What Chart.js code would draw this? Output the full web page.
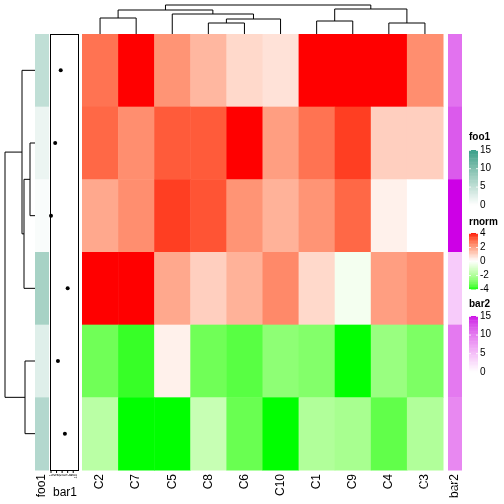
<!DOCTYPE html>
<html>
<head>
<meta charset="utf-8">
<script src="https://cdn.jsdelivr.net/npm/chart.js@4"></script>
<style>
  html, body { margin: 0; padding: 0; background: #fff; }
  #wrap { width: 504px; height: 504px; }
</style>
</head>
<body>
<div id="wrap"><canvas id="c"></canvas></div>
<script>
const columns = ['C2', 'C7', 'C5', 'C8', 'C6', 'C10', 'C1', 'C9', 'C4', 'C3'];
const rnorm = [
  [2.8, 4.0, 2.2, 1.5, 0.8, 0.6, 4.0, 4.0, 4.0, 2.3],
  [3.0, 2.3, 3.2, 3.2, 4.0, 2.0, 2.8, 3.6, 1.0, 1.0],
  [1.8, 2.3, 3.6, 3.3, 2.2, 1.6, 2.2, 3.0, 0.3, 0.0],
  [4.0, 4.0, 1.8, 1.0, 1.6, 2.4, 0.8, -0.3, 2.0, 2.3],
  [-3.2, -3.8, 0.3, -3.2, -3.5, -2.7, -2.9, -4.0, -2.5, -3.0],
  [-1.8, -4.0, -4.0, -1.5, -3.3, -4.0, -2.0, -2.2, -3.4, -2.0]
];
const foo1 = [5, 1.5, 0.5, 7, 2.5, 6];
const bar1 = [4.5, 2.5, 1, 7, 3.5, 6];
const bar2 = [10.5, 12, 15, 4, 10, 9];
const bar1Ticks = [1, 2, 3, 4, 5, 6, 7, 8, 9, 10];
// merges: [left, right, height]; negative = leaf index, positive = earlier merge number (1-based)
const colMerges = [[-1, -2, 16], [-4, -5, 11], [2, -6, 15], [-3, 3, 20], [1, 4, 24],
                   [-7, -8, 13], [-9, -10, 11], [6, 7, 25], [5, 8, 29]];
const rowMerges = [[-2, -3, 5], [1, -4, 11], [-1, 2, 13], [-5, -6, 10], [3, 4, 30]];

// LAB interpolation like ComplexHeatmap's colorRamp2
function toLin(c) { c /= 255; return c <= 0.04045 ? c / 12.92 : Math.pow((c + 0.055) / 1.055, 2.4); }
function fromLin(c) { c = c <= 0.0031308 ? c * 12.92 : 1.055 * Math.pow(c, 1 / 2.4) - 0.055; return Math.max(0, Math.min(255, Math.round(c * 255))); }
function rgb2lab(rgb) {
  const [r, g, b] = rgb.map(toLin);
  const X = (0.4124 * r + 0.3576 * g + 0.1805 * b) / 0.95047, Y = 0.2126 * r + 0.7152 * g + 0.0722 * b, Z = (0.0193 * r + 0.1192 * g + 0.9505 * b) / 1.08883;
  const f = t => t > 0.008856 ? Math.cbrt(t) : 7.787 * t + 16 / 116;
  return [116 * f(Y) - 16, 500 * (f(X) - f(Y)), 200 * (f(Y) - f(Z))];
}
function lab2rgb([L, a, bb]) {
  const fy = (L + 16) / 116, fx = fy + a / 500, fz = fy - bb / 200;
  const fi = t => t * t * t > 0.008856 ? t * t * t : (t - 16 / 116) / 7.787;
  const X = fi(fx) * 0.95047, Y = fi(fy), Z = fi(fz) * 1.08883;
  return [3.2406 * X - 1.5372 * Y - 0.4986 * Z, -0.9689 * X + 1.8758 * Y + 0.0415 * Z, 0.0557 * X - 0.2040 * Y + 1.0570 * Z].map(fromLin);
}
function mix(a, b, t) { const A = rgb2lab(a), B = rgb2lab(b); return lab2rgb(A.map((v, i) => v + (B[i] - v) * t)); }
function rnormColor(v) {
  const t = Math.min(1, Math.abs(v) / 4);
  const c = v >= 0 ? mix([255, 255, 255], [255, 0, 0], t) : mix([255, 255, 255], [0, 255, 0], t);
  return `rgb(${c})`;
}
function fooColor(v) { return `rgb(${mix([255, 255, 255], [27, 152, 128], Math.min(1, v / 16))})`; }
function barColor(v) { return `rgb(${mix([255, 255, 255], [205, 0, 230], Math.min(1, v / 15))})`; }

function dendro(ctx, merges, leafPos, hToPix, vertical) {
  const nodes = [];
  const pos = i => i < 0 ? { p: leafPos(-i - 1), h: 0 } : nodes[i - 1];
  ctx.beginPath();
  merges.forEach(([a, b, h]) => {
    const A = pos(a), B = pos(b);
    const pts = [[A.p, A.h], [A.p, h], [B.p, h], [B.p, B.h]];
    pts.forEach(([p, hh], k) => {
      const x = vertical ? hToPix(hh) : p, y = vertical ? p : hToPix(hh);
      k === 0 ? ctx.moveTo(x, y) : ctx.lineTo(x, y);
    });
    nodes.push({ p: (A.p + B.p) / 2, h });
  });
  ctx.strokeStyle = '#000'; ctx.lineWidth = 1; ctx.stroke();
}

function gradientBar(ctx, x, y0, y1, colorFn, vmax, vmin) {
  const n = 40;
  for (let i = 0; i < n; i++) {
    const v = vmax - (vmax - vmin) * (i + 0.5) / n;
    ctx.fillStyle = colorFn(v);
    ctx.fillRect(x, y0 + (y1 - y0) * i / n, 9, (y1 - y0) / n + 0.5);
  }
}

const heatPlugin = {
  id: 'heat',
  afterDraw(chart) {
    const ctx = chart.ctx, xs = chart.scales.x, ys = chart.scales.y;
    const area = chart.chartArea;
    const rowTop = r => ys.getPixelForValue(r), rowBot = r => ys.getPixelForValue(r + 1);
    const rowMid = r => ys.getPixelForValue(r + 0.5);
    ctx.save();
    rnorm.forEach((row, r) => row.forEach((v, c) => {
      const x0 = xs.getPixelForValue(c), x1 = xs.getPixelForValue(c + 1);
      ctx.fillStyle = rnormColor(v);
      ctx.fillRect(x0, rowTop(r), x1 - x0 + 0.5, rowBot(r) - rowTop(r) + 0.5);
    }));
    // annotations
    rnorm.forEach((_, r) => {
      ctx.fillStyle = fooColor(foo1[r]);
      ctx.fillRect(35, rowTop(r), 14, rowBot(r) - rowTop(r) + 0.5);
      ctx.fillStyle = barColor(bar2[r]);
      ctx.fillRect(448, rowTop(r), 14, rowBot(r) - rowTop(r) + 0.5);
    });
    // bar1 point annotation
    const bx = v => 51 + (v - 1) / 9 * 25;
    ctx.strokeStyle = '#000'; ctx.lineWidth = 1;
    ctx.strokeRect(50.5, area.top + 0.5, 28, area.bottom - area.top);
    ctx.fillStyle = '#000';
    bar1.forEach((v, r) => { ctx.beginPath(); ctx.arc(bx(v), rowMid(r), 2, 0, 7); ctx.fill(); });
    ctx.beginPath();
    bar1Ticks.forEach(t => { if (t % 2) { ctx.moveTo(bx(t), area.bottom); ctx.lineTo(bx(t), area.bottom + 3); } });
    ctx.stroke();
    ctx.font = '4px Liberation Sans'; ctx.textAlign = 'right'; ctx.textBaseline = 'middle';
    bar1Ticks.forEach(t => {
      ctx.save(); ctx.translate(bx(t), area.bottom + 4); ctx.rotate(-Math.PI / 2);
      ctx.fillText(String(t), 0, 0); ctx.restore();
    });
    // dendrograms
    dendro(ctx, colMerges, i => xs.getPixelForValue(i + 0.5), h => area.top - h, false);
    dendro(ctx, rowMerges, i => rowMid(i), h => 35 - h, true);
    // column labels
    ctx.fillStyle = '#000'; ctx.font = '12px Liberation Sans'; ctx.textAlign = 'right'; ctx.textBaseline = 'middle';
    const vlabel = (t, x) => { ctx.save(); ctx.translate(x, area.bottom + 4); ctx.rotate(-Math.PI / 2); ctx.fillText(t, 0, 0); ctx.restore(); };
    columns.forEach((c, i) => vlabel(c, xs.getPixelForValue(i + 0.5)));
    vlabel('foo1', 42); vlabel('bar2', 455);
    ctx.textAlign = 'left'; ctx.fillText('bar1', 53, 493);
    // legends
    const legend = (title, ty, y0, y1, fn, vmax, vmin, ticks) => {
      ctx.font = 'bold 10px Liberation Sans'; ctx.textAlign = 'left'; ctx.fillStyle = '#000';
      ctx.fillText(title, 469, ty);
      gradientBar(ctx, 469, y0, y1, fn, vmax, vmin);
      ctx.font = '10px Liberation Sans';
      ticks.forEach(t => {
        const y = y0 + (vmax - t) / (vmax - vmin) * (y1 - y0);
        ctx.fillStyle = '#000'; ctx.fillText(String(t), 480, y);
        ctx.fillStyle = '#fff'; ctx.fillRect(469, y, 2, 0.8); ctx.fillRect(476, y, 2, 0.8);
      });
    };
    legend('foo1', 137, 150, 205, fooColor, 15, 0, [15, 10, 5, 0]);
    legend('rnorm', 222, 233, 289, rnormColor, 4, -4, [4, 2, 0, -2, -4]);
    legend('bar2', 304, 316, 372, barColor, 15, 0, [15, 10, 5, 0]);
    ctx.font = '12px "Noto Sans CJK SC"'; ctx.fillStyle = 'rgba(255,255,255,0.85)'; ctx.textAlign = 'left';
    ctx.fillText('知乎 @彭小月', 398, 484);
    ctx.restore();
  }
};

new Chart(document.getElementById('c'), {
  type: 'scatter',
  data: { datasets: [{ data: [] }] },
  options: {
    responsive: true, maintainAspectRatio: false, animation: false,
    layout: { padding: { left: 82, right: 61, top: 34, bottom: 34 } },
    plugins: { legend: { display: false }, tooltip: { enabled: false } },
    scales: {
      x: { display: false, min: 0, max: columns.length },
      y: { display: false, min: 0, max: rnorm.length, reverse: true }
    }
  },
  plugins: [heatPlugin]
});
</script>
</body>
</html>
